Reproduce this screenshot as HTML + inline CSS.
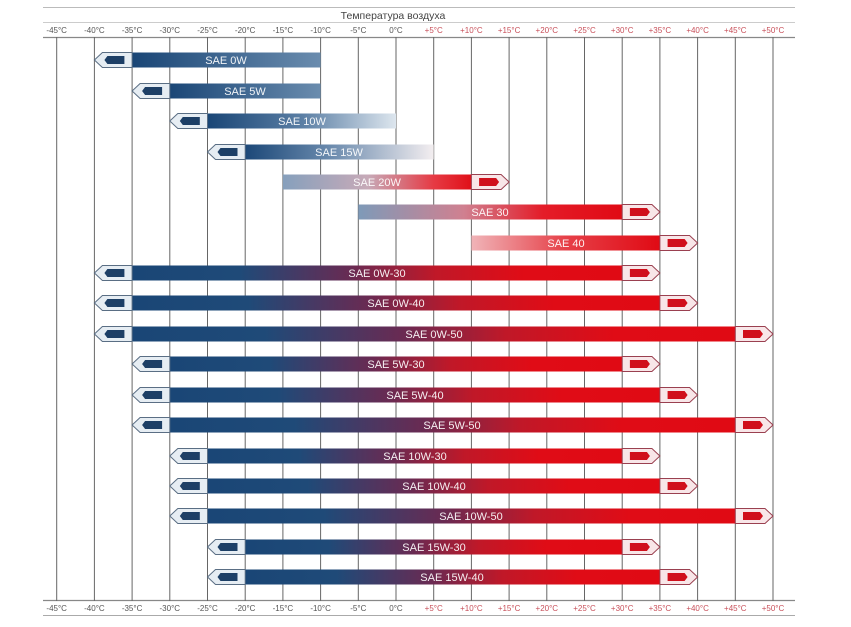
<!DOCTYPE html>
<html><head><meta charset="utf-8"><style>
html,body{margin:0;padding:0;background:#fff}
svg{display:block}
text{font-family:"Liberation Sans",sans-serif}
</style></head><body>
<svg width="851" height="627" viewBox="0 0 851 627" xmlns="http://www.w3.org/2000/svg">
<defs>
<linearGradient id="gW1" x1="0" x2="1" y1="0" y2="0"><stop offset="0" stop-color="#1a4676"/><stop offset="1" stop-color="#6a8cae"/></linearGradient>
<linearGradient id="gW3" x1="0" x2="1" y1="0" y2="0"><stop offset="0" stop-color="#1a4676"/><stop offset="0.5" stop-color="#5a7ea4"/><stop offset="1" stop-color="#dde6ee"/></linearGradient>
<linearGradient id="gW4" x1="0" x2="1" y1="0" y2="0"><stop offset="0" stop-color="#1c4878"/><stop offset="0.45" stop-color="#6a8aad"/><stop offset="1" stop-color="#f3eef0"/></linearGradient>
<linearGradient id="g20" x1="0" x2="1" y1="0" y2="0"><stop offset="0" stop-color="#86a0bc"/><stop offset="0.45" stop-color="#c7aab8"/><stop offset="0.8" stop-color="#e63a44"/><stop offset="1" stop-color="#e01018"/></linearGradient>
<linearGradient id="g30" x1="0" x2="1" y1="0" y2="0"><stop offset="0" stop-color="#7e9ab8"/><stop offset="0.4" stop-color="#d08090"/><stop offset="0.7" stop-color="#e41c28"/><stop offset="1" stop-color="#e00a14"/></linearGradient>
<linearGradient id="g40" x1="0" x2="1" y1="0" y2="0"><stop offset="0" stop-color="#f0b4b8"/><stop offset="0.5" stop-color="#e64048"/><stop offset="1" stop-color="#e00a14"/></linearGradient>
<linearGradient id="gM" x1="0" x2="1" y1="0" y2="0"><stop offset="0" stop-color="#1a4676"/><stop offset="0.22" stop-color="#1f4a78"/><stop offset="0.45" stop-color="#6a2a52"/><stop offset="0.62" stop-color="#c01828"/><stop offset="0.8" stop-color="#e00c16"/><stop offset="1" stop-color="#e00a14"/></linearGradient>
<g id="lc"><polygon points="0,7.5 8,0 37.7,0 37.7,15 8,15" fill="#e6edf3" stroke="#5a6e84" stroke-width="1"/><path d="M13,3.5 H30 V11.5 H13 L10,7.5 Z" fill="#1d3f66"/></g>
<g id="rc"><polygon points="0,7.5 -8,0 -37.7,0 -37.7,15 -8,15" fill="#f8e6e8" stroke="#9a4050" stroke-width="1"/><path d="M-13,3.5 H-30 V11.5 H-13 L-10,7.5 Z" fill="#d0101c"/></g>
</defs>
<!-- frame lines -->
<line x1="43" y1="7.5" x2="795" y2="7.5" stroke="#bbb" stroke-width="1"/>
<line x1="43" y1="22.5" x2="795" y2="22.5" stroke="#ccc" stroke-width="1"/>
<line x1="43" y1="37.5" x2="795" y2="37.5" stroke="#888" stroke-width="1.2"/>
<line x1="43" y1="600.5" x2="795" y2="600.5" stroke="#888" stroke-width="1.2"/>
<line x1="43" y1="615.5" x2="795" y2="615.5" stroke="#aaa" stroke-width="1"/>
<text x="393" y="19" font-size="10.5" fill="#444" text-anchor="middle">Температура воздуха</text>
<!-- gridlines -->
<g stroke="#666" stroke-width="1">
<line x1="56.7" y1="37" x2="56.7" y2="601"/><line x1="94.4" y1="37" x2="94.4" y2="601"/><line x1="132.1" y1="37" x2="132.1" y2="601"/><line x1="169.8" y1="37" x2="169.8" y2="601"/><line x1="207.5" y1="37" x2="207.5" y2="601"/><line x1="245.2" y1="37" x2="245.2" y2="601"/><line x1="282.9" y1="37" x2="282.9" y2="601"/><line x1="320.6" y1="37" x2="320.6" y2="601"/><line x1="358.3" y1="37" x2="358.3" y2="601"/><line x1="396" y1="37" x2="396" y2="601"/><line x1="433.7" y1="37" x2="433.7" y2="601"/><line x1="471.4" y1="37" x2="471.4" y2="601"/><line x1="509.1" y1="37" x2="509.1" y2="601"/><line x1="546.8" y1="37" x2="546.8" y2="601"/><line x1="584.5" y1="37" x2="584.5" y2="601"/><line x1="622.2" y1="37" x2="622.2" y2="601"/><line x1="659.9" y1="37" x2="659.9" y2="601"/><line x1="697.6" y1="37" x2="697.6" y2="601"/><line x1="735.3" y1="37" x2="735.3" y2="601"/><line x1="773" y1="37" x2="773" y2="601"/>
</g>
<!-- tick labels -->
<g font-size="8" text-anchor="middle" fill="#555">
<text x="56.7" y="33">-45°C</text><text x="94.4" y="33">-40°C</text><text x="132.1" y="33">-35°C</text><text x="169.8" y="33">-30°C</text><text x="207.5" y="33">-25°C</text><text x="245.2" y="33">-20°C</text><text x="282.9" y="33">-15°C</text><text x="320.6" y="33">-10°C</text><text x="358.3" y="33">-5°C</text><text x="396" y="33">0°C</text>
<text x="56.7" y="611">-45°C</text><text x="94.4" y="611">-40°C</text><text x="132.1" y="611">-35°C</text><text x="169.8" y="611">-30°C</text><text x="207.5" y="611">-25°C</text><text x="245.2" y="611">-20°C</text><text x="282.9" y="611">-15°C</text><text x="320.6" y="611">-10°C</text><text x="358.3" y="611">-5°C</text><text x="396" y="611">0°C</text>
</g>
<g font-size="8" text-anchor="middle" fill="#c8505a">
<text x="433.7" y="33">+5°C</text><text x="471.4" y="33">+10°C</text><text x="509.1" y="33">+15°C</text><text x="546.8" y="33">+20°C</text><text x="584.5" y="33">+25°C</text><text x="622.2" y="33">+30°C</text><text x="659.9" y="33">+35°C</text><text x="697.6" y="33">+40°C</text><text x="735.3" y="33">+45°C</text><text x="773" y="33">+50°C</text>
<text x="433.7" y="611">+5°C</text><text x="471.4" y="611">+10°C</text><text x="509.1" y="611">+15°C</text><text x="546.8" y="611">+20°C</text><text x="584.5" y="611">+25°C</text><text x="622.2" y="611">+30°C</text><text x="659.9" y="611">+35°C</text><text x="697.6" y="611">+40°C</text><text x="735.3" y="611">+45°C</text><text x="773" y="611">+50°C</text>
</g>
<!-- bars -->
<g>
<rect x="132.1" y="52.5" width="188.5" height="15" fill="url(#gW1)"/><use href="#lc" x="94.4" y="52.5"/>
<rect x="169.8" y="83.5" width="150.8" height="15" fill="url(#gW1)"/><use href="#lc" x="132.1" y="83.5"/>
<rect x="207.5" y="113.5" width="188.5" height="15" fill="url(#gW3)"/><use href="#lc" x="169.8" y="113.5"/>
<rect x="245.2" y="144.5" width="188.5" height="15" fill="url(#gW4)"/><use href="#lc" x="207.5" y="144.5"/>
<rect x="282.9" y="174.5" width="188.5" height="15" fill="url(#g20)"/><use href="#rc" x="509.1" y="174.5"/>
<rect x="358.3" y="204.5" width="263.9" height="15" fill="url(#g30)"/><use href="#rc" x="659.9" y="204.5"/>
<rect x="471.4" y="235.5" width="188.5" height="15" fill="url(#g40)"/><use href="#rc" x="697.6" y="235.5"/>

<rect x="132.1" y="265.5" width="490.1" height="15" fill="url(#gM)"/><use href="#lc" x="94.4" y="265.5"/><use href="#rc" x="659.9" y="265.5"/>
<rect x="132.1" y="295.5" width="527.8" height="15" fill="url(#gM)"/><use href="#lc" x="94.4" y="295.5"/><use href="#rc" x="697.6" y="295.5"/>
<rect x="132.1" y="326.5" width="603.2" height="15" fill="url(#gM)"/><use href="#lc" x="94.4" y="326.5"/><use href="#rc" x="773" y="326.5"/>
<rect x="169.8" y="356.5" width="452.4" height="15" fill="url(#gM)"/><use href="#lc" x="132.1" y="356.5"/><use href="#rc" x="659.9" y="356.5"/>
<rect x="169.8" y="387.5" width="490.1" height="15" fill="url(#gM)"/><use href="#lc" x="132.1" y="387.5"/><use href="#rc" x="697.6" y="387.5"/>
<rect x="169.8" y="417.5" width="565.5" height="15" fill="url(#gM)"/><use href="#lc" x="132.1" y="417.5"/><use href="#rc" x="773" y="417.5"/>
<rect x="207.5" y="448.5" width="414.7" height="15" fill="url(#gM)"/><use href="#lc" x="169.8" y="448.5"/><use href="#rc" x="659.9" y="448.5"/>
<rect x="207.5" y="478.5" width="452.4" height="15" fill="url(#gM)"/><use href="#lc" x="169.8" y="478.5"/><use href="#rc" x="697.6" y="478.5"/>
<rect x="207.5" y="508.5" width="527.8" height="15" fill="url(#gM)"/><use href="#lc" x="169.8" y="508.5"/><use href="#rc" x="773" y="508.5"/>
<rect x="245.2" y="539.5" width="377" height="15" fill="url(#gM)"/><use href="#lc" x="207.5" y="539.5"/><use href="#rc" x="659.9" y="539.5"/>
<rect x="245.2" y="569.5" width="414.7" height="15" fill="url(#gM)"/><use href="#lc" x="207.5" y="569.5"/><use href="#rc" x="697.6" y="569.5"/>
</g>
<!-- labels -->
<g font-size="11" fill="#fff" fill-opacity="0.92" text-anchor="middle">
<text x="226" y="64">SAE 0W</text>
<text x="245" y="95">SAE 5W</text>
<text x="302" y="125">SAE 10W</text>
<text x="339" y="156">SAE 15W</text>
<text x="377" y="186">SAE 20W</text>
<text x="490" y="216">SAE 30</text>
<text x="566" y="247">SAE 40</text>
<text x="377" y="277">SAE 0W-30</text>
<text x="396" y="307">SAE 0W-40</text>
<text x="434" y="338">SAE 0W-50</text>
<text x="396" y="368">SAE 5W-30</text>
<text x="415" y="399">SAE 5W-40</text>
<text x="452" y="429">SAE 5W-50</text>
<text x="415" y="460">SAE 10W-30</text>
<text x="434" y="490">SAE 10W-40</text>
<text x="471" y="520">SAE 10W-50</text>
<text x="434" y="551">SAE 15W-30</text>
<text x="452" y="581">SAE 15W-40</text>
</g>
</svg>
</body></html>
